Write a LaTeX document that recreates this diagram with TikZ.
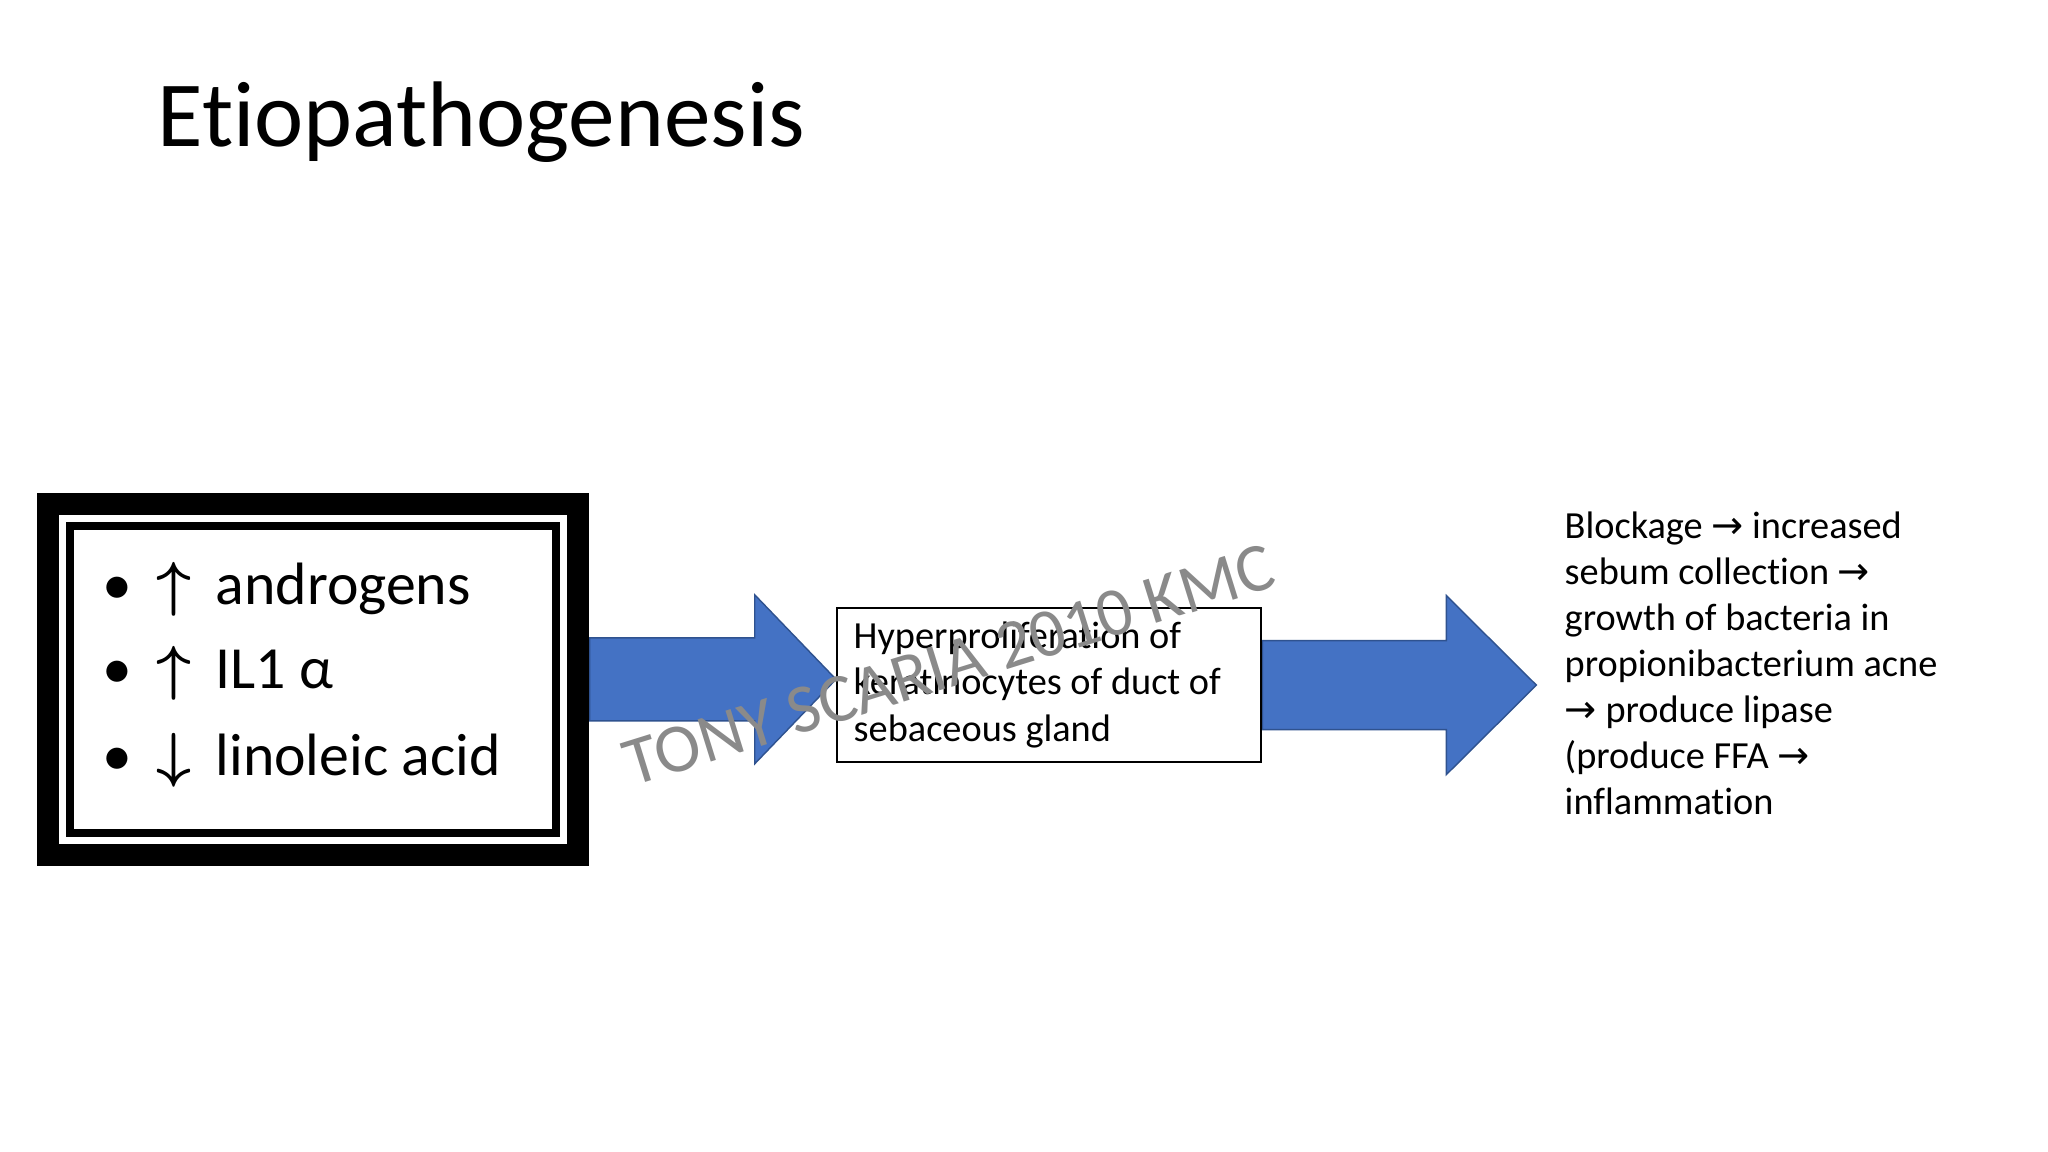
\documentclass[tikz,border=0pt]{standalone}
\usepackage{fontspec}
\setmainfont{Carlito}[Ligatures=NoCommon]
\newfontfamily\symfont{DejaVu Sans}
\usetikzlibrary{positioning, calc, backgrounds}
\definecolor{arrowblue}{RGB}{68,114,196}
\definecolor{arrowedge}{RGB}{47,82,143}
\definecolor{markgray}{RGB}{138,138,138}
\newcommand{\rarr}{{\symfont →}}

\begin{document}
\begin{tikzpicture}[x=0.01cm, y=-0.01cm,
  heading/.style={anchor=base west, inner sep=0, font=\fontsize{26.5}{32}\selectfont},
  cause/.style={anchor=base west, inner sep=0, font=\fontsize{17}{20}\selectfont},
  dirmark/.style={anchor=base, inner sep=0, font=\fontsize{18.5}{20}\selectfont\boldmath},
  steptext/.style={anchor=base west, inner sep=0, font=\fontsize{10.9}{13}\selectfont},
  stepbox/.style={draw, fill=white, line width=0.6pt, inner sep=0, anchor=north west},
  blockarrow/.style={fill=arrowblue, draw=arrowedge, line width=0.4pt, line join=miter},
  watermark/.style={markgray, inner sep=0, anchor=base west, rotate=17.3,
                    font=\fontsize{19.6}{24}\selectfont}
]
\useasboundingbox (0,0) rectangle (2048,1152);

% Title
\node[heading] (title) at (157,147) {Etiopathogenesis};

% Causes box with double frame
\node[fill=black, inner sep=0, minimum width=5.52cm, minimum height=3.73cm,
      anchor=north west] (causes) at (36,492) {};
\fill[white] ($(causes.north west)+(23,23)$) rectangle ($(causes.south east)+(-23,-23)$);
\fill[black] ($(causes.north west)+(30,30)$) rectangle ($(causes.south east)+(-30,-30)$);
\fill[white] ($(causes.north west)+(38,38)$) rectangle ($(causes.south east)+(-38,-38)$);

\foreach \i/\y/\dir/\txt in {1/604/\uparrow/androgens, 2/689/\uparrow/IL1 α,
                             3/775/\downarrow/linoleic acid} {
  \node[cause, anchor=base] (bullet\i) at (117.5,\y) {•};
  \node[dirmark] (dir\i) at (174,\y) {$\dir$};
  \node[cause] (cause\i) at (215,\y) {\txt};
}

% Middle step
\node[stepbox, minimum width=4.24cm, minimum height=1.54cm] (hyper) at (836,607) {};
\foreach \i/\y/\txt in {1/649/Hyperproliferation of, 2/695/keratinocytes of duct of,
                        3/741/sebaceous gland} {
  \node[steptext] (hyper\i) at (853,\y) {\txt};
}

% Outcome text
\foreach \i/\y/\txt in {1/538/Blockage \rarr{} increased, 2/584/sebum collection \rarr,
                        3/630/growth of bacteria in, 4/676/propionibacterium acne,
                        5/722/\rarr{} produce lipase, 6/768/(produce FFA \rarr,
                        7/814/inflammation} {
  \node[steptext] (effect\i) at (1564,\y) {\txt};
}
\coordinate (tip) at ($(hyper.east)+(274,0)$);

% Block arrows
\begin{scope}[on background layer]
  \fill[white] (0,0) rectangle (2048,1152);
  \draw[blockarrow] ($(causes.east)+(0,-41.5)$) -- ($(causes.east)+(165,-41.5)$)
    -- ($(causes.east)+(165,-84.5)$) -- (hyper.west |- causes.east)
    -- ($(causes.east)+(165,84.5)$) -- ($(causes.east)+(165,41.5)$)
    -- ($(causes.east)+(0,41.5)$) -- cycle;
  \draw[blockarrow] ($(hyper.east)+(0,-44.5)$) -- ($(hyper.east)+(184,-44.5)$)
    -- ($(hyper.east)+(184,-89.5)$) -- (tip)
    -- ($(hyper.east)+(184,89.5)$) -- ($(hyper.east)+(184,44.5)$)
    -- ($(hyper.east)+(0,44.5)$) -- cycle;
\end{scope}

% Watermark
\node[watermark] (mark) at (632,787) {TONY SCARIA 2010 KMC};
\end{tikzpicture}
\end{document}
